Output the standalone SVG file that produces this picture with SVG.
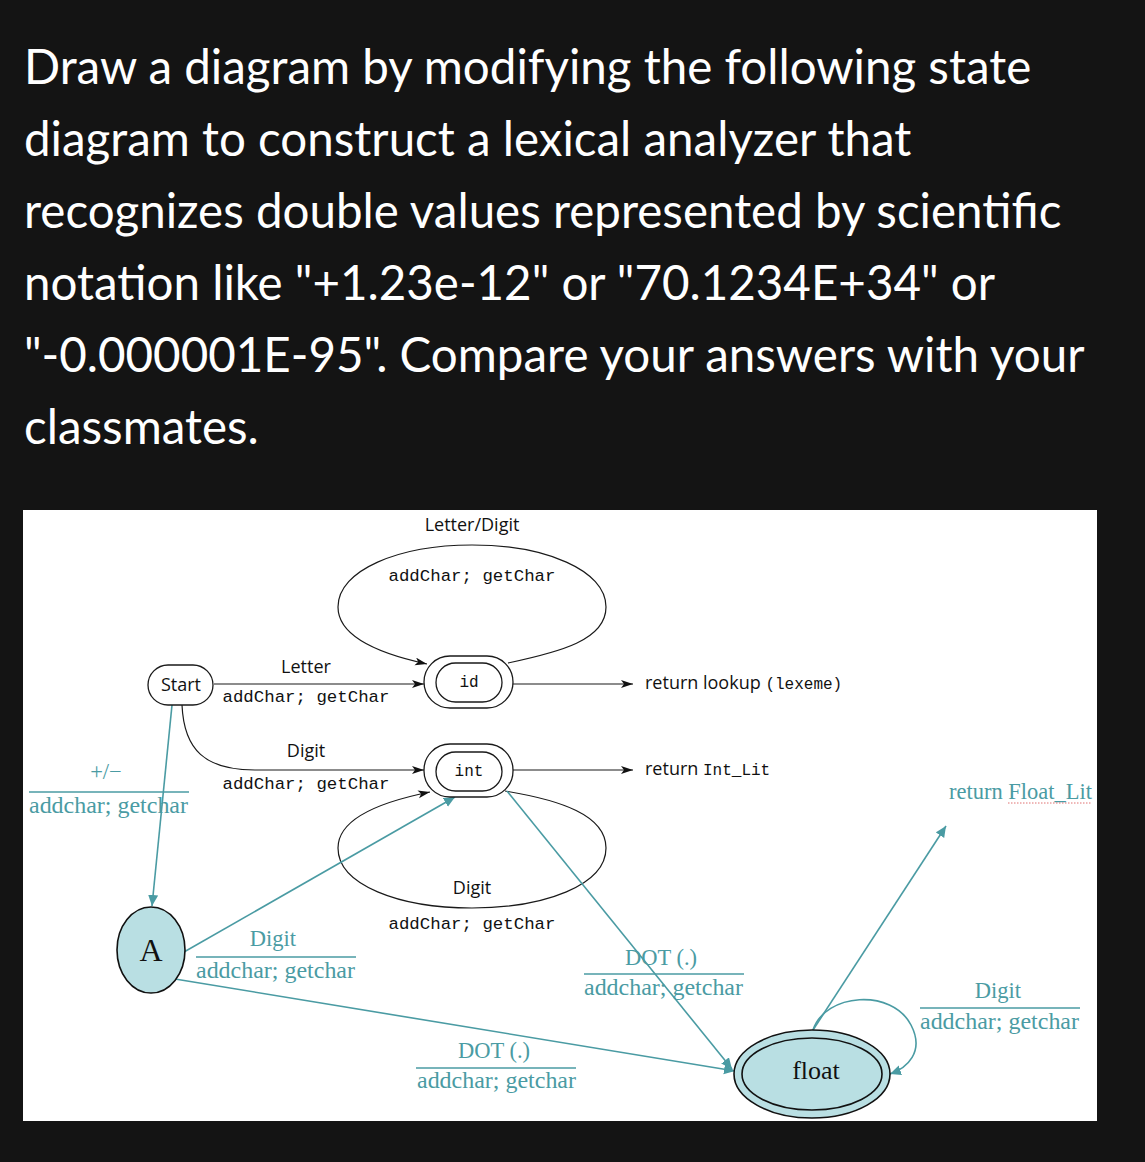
<svg xmlns="http://www.w3.org/2000/svg" width="1145" height="1162" viewBox="0 0 1145 1162">
<style>
.hdr{font-family:Lato,"Open Sans",sans-serif;font-size:47.5px;fill:#ffffff}
.sans{font-family:"Open Sans","Liberation Sans",sans-serif;font-size:18px;fill:#111}
.mono{font-family:"Liberation Mono","DejaVu Sans Mono",monospace;font-size:17.4px;fill:#111}
.ser{font-family:"Liberation Serif","Times New Roman",serif;font-size:22.5px;fill:#4a9ba3}
.blk{fill:none;stroke:#1a1a1a;stroke-width:1.2}
.tl{fill:none;stroke:#4a9ba3;stroke-width:1.6}
.bar{stroke:#4a9ba3;stroke-width:1.6}
.node{fill:#fff;stroke:#1a1a1a;stroke-width:1.3}
.tnode{fill:#b9dfe3;stroke:#111;stroke-width:1.6}
</style>
<defs>
<marker id="ab" markerUnits="userSpaceOnUse" markerWidth="14" markerHeight="10" refX="12" refY="4" orient="auto">
<path d="M0,0 L12,4 L0,8 L3,4 z" fill="#111"/>
</marker>
<marker id="at" markerUnits="userSpaceOnUse" markerWidth="14" markerHeight="12" refX="11" refY="5" orient="auto">
<path d="M0,0 L11,5 L0,10 z" fill="#4a9ba3"/>
</marker>
</defs>
<rect x="0" y="0" width="1145" height="1162" fill="#141414"/>
<g id="question">
<text class="hdr" x="24" y="84">Draw a diagram by modifying the following state</text>
<text class="hdr" x="24" y="156">diagram to construct a lexical analyzer that</text>
<text class="hdr" x="24" y="228">recognizes double values represented by scientific</text>
<text class="hdr" x="24" y="300">notation like "+1.23e-12" or "70.1234E+34" or</text>
<text class="hdr" x="24" y="372">"-0.000001E-95". Compare your answers with your</text>
<text class="hdr" x="24" y="444">classmates.</text>
</g>
<rect x="23" y="510" width="1074" height="611" fill="#ffffff"/>
<g id="connectors">
<path class="blk" d="M214,684 L424,684" marker-end="url(#ab)"/>
<path class="blk" d="M182,705 C184,750 205,770 255,770 L424,770" marker-end="url(#ab)"/>
<path class="blk" d="M508,663 C560,652 606,640 606,607 C606,570 545,545 472,545 C399,545 338,570 338,607 C338,640 390,656 427,664" marker-end="url(#ab)"/>
<path class="blk" d="M505,791 C560,800 606,815 606,848 C606,885 545,908 472,908 C399,908 338,885 338,848 C338,815 390,800 430,792" marker-end="url(#ab)"/>
<path class="blk" d="M513,684 L633,684" marker-end="url(#ab)"/>
<path class="blk" d="M513,770 L633,770" marker-end="url(#ab)"/>
<path class="tl" d="M172,705 L152,906" marker-end="url(#at)"/>
<path class="tl" d="M184,952 L455,797" marker-end="url(#at)"/>
<path class="tl" d="M175,979 L735,1071" marker-end="url(#at)"/>
<path class="tl" d="M507,791 L732,1069" marker-end="url(#at)"/>
<path class="tl" d="M813,1030 L946,826" marker-end="url(#at)"/>
<path class="tl" d="M813,1030 C825,993 892,988 911,1025 C925,1052 907,1068 890,1074" marker-end="url(#at)"/>
</g>
<g id="labels">
<text class="sans" x="306" y="673" text-anchor="middle">Letter</text>
<text class="mono" x="306" y="702" text-anchor="middle">addChar; getChar</text>
<text class="sans" x="306" y="757" text-anchor="middle">Digit</text>
<text class="mono" x="306" y="789" text-anchor="middle">addChar; getChar</text>
<text class="sans" x="472" y="531" text-anchor="middle">Letter/Digit</text>
<text class="mono" x="472" y="581" text-anchor="middle">addChar; getChar</text>
<text class="sans" x="472" y="894" text-anchor="middle">Digit</text>
<text class="mono" x="472" y="929" text-anchor="middle">addChar; getChar</text>
<text class="sans" x="645" y="689">return lookup <tspan class="mono" style="font-size:16px">(lexeme)</tspan></text>
<text class="sans" x="645" y="775">return <tspan class="mono" style="font-size:16px">Int_Lit</tspan></text>
<text class="ser" x="106" y="779" text-anchor="middle">+/−</text>
<line class="bar" x1="29" y1="792" x2="189" y2="792"/>
<text class="ser" x="29" y="813" textLength="159" lengthAdjust="spacingAndGlyphs">addchar; getchar</text>
<text class="ser" x="273" y="946" text-anchor="middle">Digit</text>
<line class="bar" x1="196" y1="957" x2="356" y2="957"/>
<text class="ser" x="196" y="978" textLength="159" lengthAdjust="spacingAndGlyphs">addchar; getchar</text>
<text class="ser" x="494" y="1058" text-anchor="middle">DOT (.)</text>
<line class="bar" x1="416" y1="1068" x2="576" y2="1068"/>
<text class="ser" x="417" y="1088" textLength="159" lengthAdjust="spacingAndGlyphs">addchar; getchar</text>
<text class="ser" x="661" y="965" text-anchor="middle">DOT (.)</text>
<line class="bar" x1="584" y1="974" x2="744" y2="974"/>
<text class="ser" x="584" y="995" textLength="159" lengthAdjust="spacingAndGlyphs">addchar; getchar</text>
<text class="ser" x="998" y="998" text-anchor="middle">Digit</text>
<line class="bar" x1="920" y1="1008" x2="1080" y2="1008"/>
<text class="ser" x="920" y="1029" textLength="159" lengthAdjust="spacingAndGlyphs">addchar; getchar</text>
<text class="ser" x="949" y="799" textLength="143" lengthAdjust="spacingAndGlyphs">return Float_Lit</text>
<path d="M1008,803 L1092,803" stroke="#e07070" stroke-width="1" stroke-dasharray="1.5 1.5"/>
</g>
<g id="node-start">
<rect class="node" x="148" y="665" width="65" height="40" rx="20"/>
<text class="sans" x="181" y="691" text-anchor="middle">Start</text>
</g>
<g id="node-id">
<rect class="node" x="424" y="656" width="89" height="52" rx="26"/>
<rect class="node" x="436" y="663" width="66" height="39" rx="19.5"/>
<text class="mono" x="469" y="687" text-anchor="middle" style="font-size:16px">id</text>
</g>
<g id="node-int">
<rect class="node" x="424" y="744" width="89" height="53" rx="26"/>
<rect class="node" x="436" y="752" width="66" height="39" rx="19.5"/>
<text class="mono" x="469" y="776" text-anchor="middle" style="font-size:16px">int</text>
</g>
<g id="node-A">
<ellipse class="tnode" cx="151" cy="950" rx="34" ry="43"/>
<text x="151" y="961" text-anchor="middle" style="font-family:'Liberation Serif',serif;font-size:32px;fill:#111">A</text>
</g>
<g id="node-float">
<ellipse class="tnode" cx="812" cy="1074" rx="78" ry="44"/>
<ellipse fill="none" stroke="#111" stroke-width="1.6" cx="812" cy="1074" rx="70" ry="36"/>
<text x="816" y="1079" text-anchor="middle" style="font-family:'Liberation Serif',serif;font-size:26px;fill:#111">float</text>
</g>
</svg>
